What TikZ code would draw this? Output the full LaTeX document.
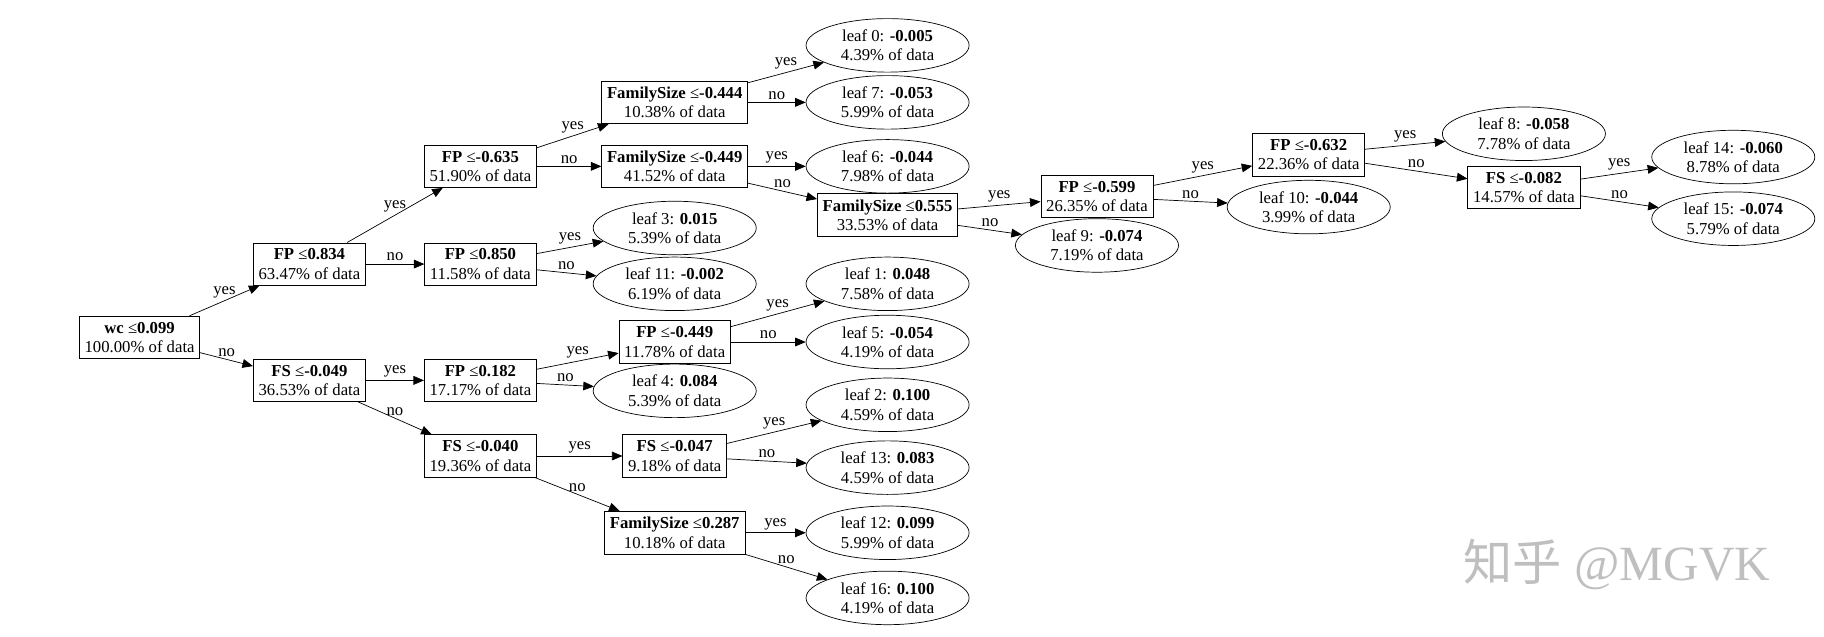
\documentclass[tikz,border=0pt]{standalone}
\usepackage{fontspec}
\setmainfont{Liberation Serif}
\newfontfamily\cjk{Noto Sans CJK SC}
\usetikzlibrary{shapes.geometric,arrows.meta,positioning}

\begin{document}
\begin{tikzpicture}[
    x=0.02326cm, y=-0.02326cm,
    font=\fontsize{9.5}{11}\selectfont,
    split/.style={rectangle, draw, align=center, minimum height=0.84cm, inner xsep=3pt},
    leaf/.style={ellipse, draw, align=center, minimum width=3.26cm, minimum height=1.07cm, inner sep=0pt},
    arrow/.style={-{Triangle[length=6pt, width=5pt]}},
    lbl/.style={midway, above, inner sep=1.5pt}
]
\useasboundingbox (0,0) rectangle (1568,547);

% Split nodes
\node[split] (wc) at (120,290) {\textbf{wc} ≤\textbf{0.099}\\100.00\% of data};
\node[split] (fp834) at (266,227) {\textbf{FP} ≤\textbf{0.834}\\63.47\% of data};
\node[split] (fs049) at (266,327) {\textbf{FS} ≤\textbf{-0.049}\\36.53\% of data};
\node[split] (fp635) at (413,143) {\textbf{FP} ≤\textbf{-0.635}\\51.90\% of data};
\node[split] (fp850) at (413,227) {\textbf{FP} ≤\textbf{0.850}\\11.58\% of data};
\node[split] (fp182) at (413,327) {\textbf{FP} ≤\textbf{0.182}\\17.17\% of data};
\node[split] (fs040) at (413,392) {\textbf{FS} ≤\textbf{-0.040}\\19.36\% of data};
\node[split] (fam444) at (580,88) {\textbf{FamilySize} ≤\textbf{-0.444}\\10.38\% of data};
\node[split] (fam449) at (580,143) {\textbf{FamilySize} ≤\textbf{-0.449}\\41.52\% of data};
\node[split] (fp449) at (580,294) {\textbf{FP} ≤\textbf{-0.449}\\11.78\% of data};
\node[split] (fs047) at (580,392) {\textbf{FS} ≤\textbf{-0.047}\\9.18\% of data};
\node[split] (fam287) at (580,458) {\textbf{FamilySize} ≤\textbf{0.287}\\10.18\% of data};
\node[split] (fam555) at (763,185) {\textbf{FamilySize} ≤\textbf{0.555}\\33.53\% of data};
\node[split] (fp599) at (943,169) {\textbf{FP} ≤\textbf{-0.599}\\26.35\% of data};
\node[split] (fp632) at (1125,133) {\textbf{FP} ≤\textbf{-0.632}\\22.36\% of data};
\node[split] (fs082) at (1310,161) {\textbf{FS} ≤\textbf{-0.082}\\14.57\% of data};

% Leaves
\node[leaf] (l3) at (580,196) {leaf 3: \textbf{0.015}\\5.39\% of data};
\node[leaf] (l11) at (580,244) {leaf 11: \textbf{-0.002}\\6.19\% of data};
\node[leaf] (l4) at (580,336) {leaf 4: \textbf{0.084}\\5.39\% of data};
\node[leaf] (l0) at (763,39) {leaf 0: \textbf{-0.005}\\4.39\% of data};
\node[leaf] (l7) at (763,88) {leaf 7: \textbf{-0.053}\\5.99\% of data};
\node[leaf] (l6) at (763,143) {leaf 6: \textbf{-0.044}\\7.98\% of data};
\node[leaf] (l1) at (763,244) {leaf 1: \textbf{0.048}\\7.58\% of data};
\node[leaf] (l5) at (763,294) {leaf 5: \textbf{-0.054}\\4.19\% of data};
\node[leaf] (l2) at (763,348) {leaf 2: \textbf{0.100}\\4.59\% of data};
\node[leaf] (l13) at (763,402) {leaf 13: \textbf{0.083}\\4.59\% of data};
\node[leaf] (l12) at (763,458) {leaf 12: \textbf{0.099}\\5.99\% of data};
\node[leaf] (l16) at (763,514) {leaf 16: \textbf{0.100}\\4.19\% of data};
\node[leaf] (l9) at (943,211) {leaf 9: \textbf{-0.074}\\7.19\% of data};
\node[leaf] (l10) at (1125,178) {leaf 10: \textbf{-0.044}\\3.99\% of data};
\node[leaf] (l8) at (1310,115) {leaf 8: \textbf{-0.058}\\7.78\% of data};
\node[leaf] (l14) at (1490,135) {leaf 14: \textbf{-0.060}\\8.78\% of data};
\node[leaf] (l15) at (1490,188) {leaf 15: \textbf{-0.074}\\5.79\% of data};

% Edges
\draw[arrow] (wc) -- node[lbl] {yes} (fp834);
\draw[arrow] (wc) -- node[lbl] {no} (fs049);
\draw[arrow] (fp834) -- node[lbl] {yes} (fp635);
\draw[arrow] (fp834) -- node[lbl] {no} (fp850);
\draw[arrow] (fs049) -- node[lbl] {yes} (fp182);
\draw[arrow] (fs049) -- node[lbl] {no} (fs040);
\draw[arrow] (fp635) -- node[lbl] {yes} (fam444);
\draw[arrow] (fp635) -- node[lbl] {no} (fam449);
\draw[arrow] (fp850) -- node[lbl] {yes} (l3);
\draw[arrow] (fp850) -- node[lbl] {no} (l11);
\draw[arrow] (fp182) -- node[lbl] {yes} (fp449);
\draw[arrow] (fp182) -- node[lbl] {no} (l4);
\draw[arrow] (fs040) -- node[lbl] {yes} (fs047);
\draw[arrow] (fs040) -- node[lbl] {no} (fam287);
\draw[arrow] (fam444) -- node[lbl] {yes} (l0);
\draw[arrow] (fam444) -- node[lbl] {no} (l7);
\draw[arrow] (fam449) -- node[lbl] {yes} (l6);
\draw[arrow] (fam449) -- node[lbl] {no} (fam555);
\draw[arrow] (fp449) -- node[lbl] {yes} (l1);
\draw[arrow] (fp449) -- node[lbl] {no} (l5);
\draw[arrow] (fs047) -- node[lbl] {yes} (l2);
\draw[arrow] (fs047) -- node[lbl] {no} (l13);
\draw[arrow] (fam287) -- node[lbl] {yes} (l12);
\draw[arrow] (fam287) -- node[lbl] {no} (l16);
\draw[arrow] (fam555) -- node[lbl] {yes} (fp599);
\draw[arrow] (fam555) -- node[lbl] {no} (l9);
\draw[arrow] (fp599) -- node[lbl] {yes} (fp632);
\draw[arrow] (fp599) -- node[lbl] {no} (l10);
\draw[arrow] (fp632) -- node[lbl] {yes} (l8);
\draw[arrow] (fp632) -- node[lbl] {no} (fs082);
\draw[arrow] (fs082) -- node[lbl] {yes} (l14);
\draw[arrow] (fs082) -- node[lbl] {no} (l15);

% Watermark
\node[text=black!25, font=\fontsize{28}{30}\selectfont] (mark) at (1390,485) {{\cjk 知乎} @MGVK};
\end{tikzpicture}
\end{document}
